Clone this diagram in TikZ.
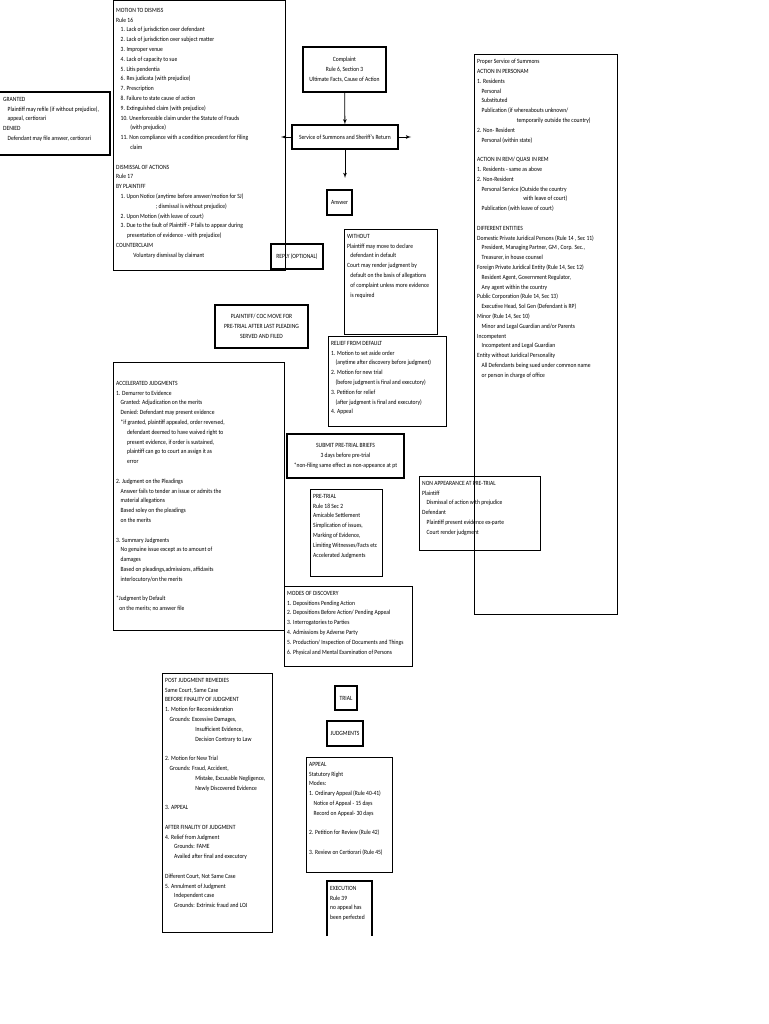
\documentclass[tikz,border=0pt]{standalone}
\usepackage{fontspec}
\setmainfont{Carlito}[FakeStretch=0.87]
\usetikzlibrary{arrows}

\begin{document}
\begin{tikzpicture}[x=1pt, y=-1pt, node distance = 10pt]
  \tikzstyle{frame} = [draw, line width=1.1pt, inner sep=0pt]
  \tikzstyle{block} = [rectangle, draw, line width=1.1pt, align=center,
    font=\fontsize{6.4}{10}\selectfont, inner sep=2pt]
  \tikzstyle{notes} = [anchor=north west, align=left, inner xsep=3pt, inner ysep=5pt,
    font=\fontsize{6.4}{9.8}\selectfont]
  \tikzstyle{line} = [draw, line width=0.8pt, -latex']
  \newcommand{\ind}[1][0.7em]{\hspace*{#1}}

  \useasboundingbox (0,0) rectangle (768,1024);
  \fill[white] (0,0) rectangle (768,1024);

  % Main column
  \node [block, minimum width=83pt, minimum height=45pt] (complaint) at (344.5,69.5)
    {Complaint\\Rule 6, Section 3\\Ultimate Facts, Cause of Action};
  \node [block, minimum width=106pt, minimum height=24pt] (service) at (345,137)
    {Service of Summons and Sheriff's Return};
  \node [block, minimum width=25pt, minimum height=25pt] (answer) at (339.5,202.5) {Answer};
  \node [block, minimum width=52pt, minimum height=25pt] (reply) at (297,256.5) {REPLY (OPTIONAL)};
  \node [block, minimum width=93pt, minimum height=43pt] (coc) at (261.5,326.5)
    {PLAINTIFF/ COC MOVE FOR\\PRE-TRIAL AFTER LAST PLEADING\\SERVED AND FILED};
  \node [block, minimum width=117pt, minimum height=44pt] (briefs) at (345.5,456)
    {SUBMIT PRE-TRIAL BRIEFS\\3 days before pre-trial\\*non-filing same effect as non-appeance at pt};
  \node [block, minimum width=22pt, minimum height=24pt] (trial) at (346,698) {TRIAL};
  \node [block, minimum width=36pt, minimum height=25pt] (judgments) at (345,733.5) {JUDGMENTS};

  % Boxes with notes
  \node [frame, minimum width=172pt, minimum height=270pt, anchor=north west] (dismiss) at (113,0) {};
  \node [notes] (dismisstxt) at ([yshift=-3pt]dismiss.north west) {MOTION TO DISMISS\\Rule 16\\
    \ind 1. Lack of jurisdiction over defendant\\
    \ind 2. Lack of jurisdiction over subject matter\\
    \ind 3. Improper venue\\
    \ind 4. Lack of capacity to sue\\
    \ind 5. Litis pendentia\\
    \ind 6. Res judicata (with prejudice)\\
    \ind 7. Prescription\\
    \ind 8. Failure to state cause of action\\
    \ind 9. Extinguished claim (with prejudice)\\
    \ind 10. Unenforceable claim under the Statute of Frauds\\
    \ind[2em] (with prejudice)\\
    \ind 11. Non compliance with a condition precedent for filing\\
    \ind[2em] claim\\[9.8pt]
    DISMISSAL OF ACTIONS\\Rule 17\\BY PLAINTIFF\\
    \ind 1. Upon Notice (anytime before answer/motion for SJ)\\
    \ind[6em] ; dismissal is without prejudice)\\
    \ind 2. Upon Motion (with leave of court)\\
    \ind 3. Due to the fault of Plaintiff - P fails to appear during\\
    \ind[1.5em] presentation of evidence - with prejudice)\\
    COUNTERCLAIM\\
    \ind[2.5em] Voluntary dismissal by claimant};

  \coordinate (gr) at (110,92);
  \draw [line width=1.1pt] (-1,92) -- (gr) -- (110,155) -- (-1,155);
  \node [notes] (granted) at (0,92) {GRANTED\\
    \ind Plaintiff may refile (if without prejudice),\\
    \ind appeal, certiorari\\DENIED\\
    \ind Defendant may file answer, certiorari};

  \node [frame, minimum width=143pt, minimum height=560pt, anchor=north west] (summons) at (474,54) {};
  \node [notes] (summonstxt) at (summons.north west) {Proper Service of Summons\\
    ACTION IN PERSONAM\\1. Residents\\
    \ind Personal\\\ind Substituted\\
    \ind Publication (if whereabouts unknown/\\
    \ind[6em] temporarily outside the country)\\
    2. Non- Resident\\\ind Personal (within state)\\[9.8pt]
    ACTION IN REM/ QUASI IN REM\\
    1. Residents - same as above\\2. Non-Resident\\
    \ind Personal Service (Outside the country\\
    \ind[7em] with leave of court)\\
    \ind Publication (with leave of court)\\[9.8pt]
    DIFFERENT ENTITIES\\
    Domestic Private Juridical Persons (Rule 14 , Sec 11)\\
    \ind President, Managing Partner, GM , Corp. Sec.,\\
    \ind Treasurer, in house counsel\\
    Foreign Private Juridical Entity (Rule 14, Sec 12)\\
    \ind Resident Agent, Government Regulator,\\
    \ind Any agent within the country\\
    Public Corporation (Rule 14, Sec 13)\\
    \ind Executive Head, Sol Gen (Defendant is RP)\\
    Minor (Rule 14, Sec 10)\\
    \ind Minor and Legal Guardian and/or Parents\\
    Incompetent\\
    \ind Incompetent and Legal Guardian\\
    Entity without Juridical Personality\\
    \ind All Defendants being sued under common name\\
    \ind or person in charge of office};

  \node [frame, minimum width=93pt, minimum height=105pt, anchor=north west] (without) at (344,229) {};
  \node [notes] (withouttxt) at (without.north west) {WITHOUT\\
    Plaintiff may move to declare\\\ind[0.3em] defendant in default\\
    Court may render judgment by\\\ind[0.3em] default on the basis of allegations\\
    \ind[0.3em] of complaint unless more evidence\\\ind[0.3em] is required};

  \node [frame, minimum width=118pt, minimum height=90pt, anchor=north west] (relief) at (328,336) {};
  \node [notes] (relieftxt) at (relief.north west) {RELIEF FROM DEFAULT\\
    1. Motion to set aside order\\\ind (anytime after discovery before judgment)\\
    2. Motion for new trial\\\ind (before judgment is final and executory)\\
    3. Petition for relief\\\ind (after judgment is final and executory)\\
    4. Appeal};

  \node [frame, minimum width=171pt, minimum height=268pt, anchor=north west] (accel) at (113,362) {};
  \node [notes] (acceltxt) at ([yshift=-14pt]accel.north west) {ACCELERATED JUDGMENTS\\
    1. Demurrer to Evidence\\
    \ind Granted: Adjudication on the merits\\
    \ind Denied: Defendant may present evidence\\
    \ind *if granted, plaintiff appealed, order reversed,\\
    \ind[1.5em] defendant deemed to have waived right to\\
    \ind[1.5em] present evidence, if order is sustained,\\
    \ind[1.5em] plaintiff can go to court an assign it as\\
    \ind[1.5em] error\\[9.8pt]
    2. Judgment on the Pleadings\\
    \ind Answer fails to tender an issue or admits the\\
    \ind material allegations\\
    \ind Based soley on the pleadings\\
    \ind on the merits\\[9.8pt]
    3. Summary Judgments\\
    \ind No genuine issue except as to amount of\\
    \ind damages\\
    \ind Based on pleadings,admissions, affidavits\\
    \ind interlocutory/on the merits\\[9.8pt]
    *Judgment by Default\\
    \ind[0.3em] on the merits; no answer file};

  \node [frame, minimum width=72pt, minimum height=87pt, anchor=north west] (pretrial) at (310,489) {};
  \node [notes] (pretrialtxt) at (pretrial.north west) {PRE-TRIAL\\Rule 18 Sec 2\\
    Amicable Settlement\\Simplication of issues,\\Marking of Evidence,\\
    Limiting Witnesses/Facts etc\\Accelerated Judgments};

  \node [frame, minimum width=121pt, minimum height=74pt, anchor=north west] (nonapp) at (419,476) {};
  \node [notes] (nonapptxt) at (nonapp.north west) {NON APPEARANCE AT PRE-TRIAL\\
    Plaintiff\\\ind Dismissal of action with prejudice\\Defendant\\
    \ind Plaintiff present evidence ex-parte\\\ind Court render judgment};

  \node [frame, minimum width=128pt, minimum height=80pt, anchor=north west] (modes) at (284,586) {};
  \node [notes] (modestxt) at (modes.north west) {MODES OF DISCOVERY\\
    1. Depositions Pending Action\\
    2. Depositions Before Action/ Pending Appeal\\
    3. Interrogatories to Parties\\
    4. Admissions by Adverse Party\\
    5. Production/ Inspection of Documents and Things\\
    6. Physical and Mental Examination of Persons};

  \node [frame, minimum width=110pt, minimum height=259pt, anchor=north west] (post) at (162,673) {};
  \node [notes] (posttxt) at (post.north west) {POST JUDGMENT REMEDIES\\
    Same Court, Same Case\\BEFORE FINALITY OF JUDGMENT\\
    1. Motion for Reconsideration\\
    \ind Grounds: Excessive Damages,\\
    \ind[4.5em] Insufficient Evidence,\\
    \ind[4.5em] Decision Contrary to Law\\[9.8pt]
    2. Motion for New Trial\\
    \ind Grounds: Fraud, Accident,\\
    \ind[4.5em] Mistake, Excusable Negligence,\\
    \ind[4.5em] Newly Discovered Evidence\\[9.8pt]
    3. APPEAL\\[9.8pt]
    AFTER FINALITY OF JUDGMENT\\
    4. Relief from Judgment\\
    \ind[1.2em] Grounds: FAME\\
    \ind[1.2em] Availed after final and executory\\[9.8pt]
    Different Court, Not Same Case\\
    5. Annulment of Judgment\\
    \ind[1.2em] Independent case\\
    \ind[1.2em] Grounds: Extrinsic fraud and LOJ};

  \node [frame, minimum width=86pt, minimum height=115pt, anchor=north west] (appeal) at (306,757) {};
  \node [notes] (appealtxt) at (appeal.north west) {APPEAL\\Statutory Right\\Modes:\\
    1. Ordinary Appeal (Rule 40-41)\\
    \ind Notice of Appeal - 15 days\\
    \ind Record on Appeal- 30 days\\[9.8pt]
    2. Petition for Review (Rule 42)\\[9.8pt]
    3. Review on Certiorari (Rule 45)};

  \coordinate (exec) at (327,881);
  \draw [line width=1.1pt] (327,936) -- (exec) -- (372,881) -- (372,936);
  \node [notes] (exectxt) at (exec) {EXECUTION\\Rule 39\\no appeal has\\been perfected};

  % Draw edges
  \coordinate (leftend) at (281,137);
  \coordinate (rightend) at (411,137);
  \coordinate (answertop) at (service.south |- 0,178);
  \path [line] (complaint) -- (service);
  \path [line] (service.west) -- (leftend);
  \path [line] (service.east) -- (rightend);
  \path [line] (service.south) -- (answertop);
\end{tikzpicture}
\end{document}
